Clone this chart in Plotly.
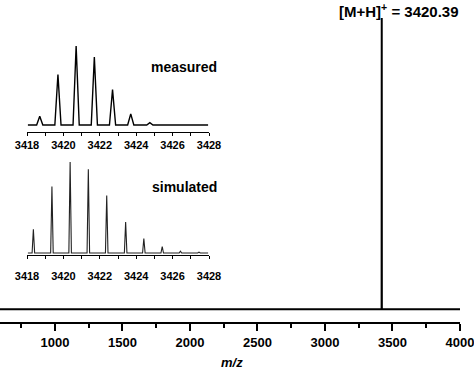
import plotly.graph_objects as go

# Main spectrum
main_peak_mz = 3420.39
main_peak_int = 100
main_range = [593, 4000]
main_ticks = [1000, 1500, 2000, 2500, 3000, 3500, 4000]

# Inset: measured isotope pattern
meas_mz = [3418.7, 3419.7, 3420.7, 3421.7, 3422.7, 3423.7, 3424.75]
meas_int = [11, 64, 100, 86, 45, 14, 3]

# Inset: simulated isotope pattern
sim_mz = [3418.35, 3419.37, 3420.37, 3421.37, 3422.38, 3423.42, 3424.42, 3425.43, 3426.43, 3427.45]
sim_int = [26, 73, 100, 92, 63, 34, 16, 7, 2, 1]

inset_ticks = [3418, 3420, 3422, 3424, 3426, 3428]
inset_range = [3418, 3428]


def profile(centers, heights, hw, lo, hi):
    xs, ys = [lo], [0]
    for c, h in zip(centers, heights):
        xs += [c - hw, c, c + hw]
        ys += [0, h, 0]
    xs.append(hi)
    ys.append(0)
    return xs, ys


fig = go.Figure()

mx, my = profile([main_peak_mz], [main_peak_int], 0.9, main_range[0], main_range[1])
fig.add_trace(go.Scatter(x=mx, y=my, mode="lines", line=dict(color="black", width=2),
                         xaxis="x", yaxis="y", hoverinfo="skip"))

ax, ay = profile(meas_mz, meas_int, 0.17, 3418.05, 3427.95)
fig.add_trace(go.Scatter(x=ax, y=ay, mode="lines", line=dict(color="black", width=1.4),
                         xaxis="x2", yaxis="y2", hoverinfo="skip"))

bx, by = profile(sim_mz, sim_int, 0.07, 3418.05, 3427.95)
fig.add_trace(go.Scatter(x=bx, y=by, mode="lines", line=dict(color="#222", width=1.1),
                         xaxis="x3", yaxis="y3", hoverinfo="skip"))

bold = dict(family="Liberation Sans, Arial, sans-serif", color="black", weight="bold")

PT, PB = 5, 322  # plot area top/bottom in pixels
H = PB - PT


def py(pix):
    return (PB - pix) / H


fig.update_layout(
    width=474, height=369,
    margin=dict(l=0, r=14, t=PT, b=369 - PB, autoexpand=False),
    paper_bgcolor="white", plot_bgcolor="white",
    showlegend=False,
    xaxis=dict(range=main_range, domain=[0, 1], tickvals=main_ticks, ticks="outside",
               ticklen=7, tickwidth=2, tickcolor="black", showline=True, linewidth=2,
               linecolor="black", showgrid=False, zeroline=False, automargin=False,
               ticklabeloverflow="allow",
               tickfont=dict(size=13, **bold),
               minor=dict(tickvals=[750, 1250, 1750, 2250, 2750, 3250, 3750], ticks="outside",
                          ticklen=4, tickwidth=2, tickcolor="black", showgrid=False)),
    yaxis=dict(range=[-4.4, 104.5], domain=[0, 1], visible=False),
    xaxis2=dict(range=inset_range, domain=[27 / 460, 209 / 460], anchor="y2",
                tickvals=inset_ticks, ticks="outside", ticklen=3, tickwidth=1,
                tickcolor="black", showline=True, linewidth=1, linecolor="black",
                showgrid=False, zeroline=False, tickfont=dict(size=11, **bold),
                ticklabelstandoff=0, automargin=False,
                minor=dict(tickvals=[3419, 3421, 3423, 3425, 3427], ticks="outside",
                           ticklen=3, tickwidth=1, tickcolor="black", showgrid=False)),
    yaxis2=dict(range=[-8.9, 107.6], domain=[py(132), py(40)], anchor="x2", visible=False),
    xaxis3=dict(range=inset_range, domain=[27 / 460, 209 / 460], anchor="y3",
                tickvals=inset_ticks, ticks="outside", ticklen=3, tickwidth=1,
                tickcolor="black", showline=True, linewidth=1, linecolor="black",
                showgrid=False, zeroline=False, tickfont=dict(size=11, **bold),
                ticklabelstandoff=8, automargin=False,
                minor=dict(tickvals=[3419, 3421, 3423, 3425, 3427], ticks="outside",
                           ticklen=3, tickwidth=1, tickcolor="black", showgrid=False)),
    yaxis3=dict(range=[-2.17, 107.6], domain=[py(255), py(155)], anchor="x3", visible=False),
)

fig.add_annotation(text="[M+H]<sup>+</sup> = 3420.39", x=399 / 460, y=py(10),
                   xref="paper", yref="paper", xanchor="center", yanchor="middle",
                   showarrow=False, font=dict(size=15, **bold))
fig.add_annotation(text="measured", x=184 / 460, y=py(67), xref="paper", yref="paper",
                   xanchor="center", yanchor="middle", showarrow=False, font=dict(size=14, **bold))
fig.add_annotation(text="simulated", x=184 / 460, y=py(187), xref="paper", yref="paper",
                   xanchor="center", yanchor="middle", showarrow=False, font=dict(size=14, **bold))
fig.add_annotation(text="<i>m/z</i>", x=232 / 460, y=py(362), xref="paper", yref="paper",
                   xanchor="center", yanchor="middle", showarrow=False, font=dict(size=13, **bold))

fig.write_html("out.html", config={"displayModeBar": False},
               post_script="document.body.style.margin='0';document.body.style.overflow='hidden';")
